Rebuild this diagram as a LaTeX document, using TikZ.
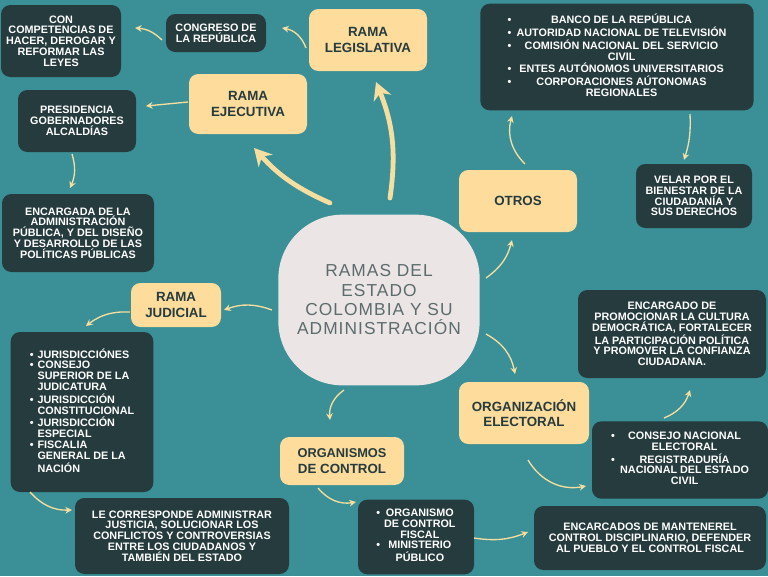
\documentclass[tikz,border=0pt]{standalone}
\usepackage{fontspec}
\setmainfont{Liberation Sans}
\usetikzlibrary{arrows.meta}
\definecolor{bg}{HTML}{3A9096}
\definecolor{dk}{HTML}{263B3D}
\definecolor{yl}{HTML}{FDDC9C}
\definecolor{ce}{HTML}{ECE5E5}
\definecolor{ar}{HTML}{F5DEA0}
\tikzset{
 dkbox/.style={fill=dk,rounded corners=7pt,text=white,font=\bfseries\fontsize{8.1}{8.1}\selectfont,align=center,inner sep=2pt},
 ylbox/.style={fill=yl,rounded corners=7pt,text=dk,font=\bfseries\fontsize{10}{11.5}\selectfont,align=center},
 con/.style={draw=ar,line width=1pt,-{Stealth[length=5pt,width=5pt]}},
 big/.style={draw=ar,line width=3.6pt,line cap=round,-{Stealth[length=13pt,width=14pt]}}
}
\newcommand{\bx}[5]{\node[#1,minimum width=#4*0.75pt,minimum height=#5*0.75pt] (#2) at (#3) }
\begin{document}
\begin{tikzpicture}[x=0.75pt,y=-0.75pt]
\fill[bg] (0,0) rectangle (768,576);
\useasboundingbox (0,0) rectangle (768,576);
\node[fill=ce,rounded corners=48pt,minimum width=151pt,minimum height=128pt,align=center,text=dk!75,font=\fontsize{13}{14.5}\selectfont\addfontfeatures{LetterSpace=6}] (c) at (379,300) {RAMAS DEL\\ESTADO\\COLOMBIA Y SU\\ADMINISTRACIÓN};
\bx{ylbox}{leg}{368,40}{118}{62}{RAMA\\LEGISLATIVA};
\bx{dkbox}{cong}{216,33}{100}{38}{CONGRESO DE\\LA REPÚBLICA};
\bx{dkbox}{comp}{61,41}{120}{72}{CON\\COMPETENCIAS DE\\HACER, DEROGAR Y\\REFORMAR LAS\\LEYES};
\bx{ylbox}{eje}{248,104}{118}{60}{RAMA\\EJECUTIVA};
\bx{dkbox}{pres}{77,121}{118}{62}{PRESIDENCIA\\GOBERNADORES\\ALCALDÍAS};
\bx{dkbox}{encg}{78,233}{152}{78}{ENCARGADA DE LA\\ADMINISTRACIÓN\\PÚBLICA, Y DEL DISEÑO\\Y DESARROLLO DE LAS\\POLÍTICAS PÚBLICAS};
\bx{ylbox}{otros}{518,201}{118}{62}{OTROS};
\node[dkbox,minimum width=205pt,minimum height=80pt] (banco) at (617,57) {\begin{tabular}{@{}l@{\hskip 4pt}c@{}}
•&BANCO DE LA REPÚBLICA\\ •&AUTORIDAD NACIONAL DE TELEVISIÓN\\ •&COMISIÓN NACIONAL DEL SERVICIO\\ &CIVIL\\ •&ENTES AUTÓNOMOS UNIVERSITARIOS\\ •&CORPORACIONES AÚTONOMAS\\ &REGIONALES\end{tabular}};
\bx{dkbox}{velar}{694,196}{116}{64}{VELAR POR EL\\BIENESTAR DE LA\\CIUDADANÍA Y\\SUS DERECHOS};
\bx{ylbox}{jud}{176,305}{90}{44}{RAMA\\JUDICIAL};
\node[dkbox,minimum width=107pt,minimum height=120pt,align=left] (jur) at (82,412) {\begin{tabular}{@{}l@{\hskip 3pt}l@{}}
•&JURISDICCIÓNES\\ •&CONSEJO\\ &SUPERIOR DE LA\\ &JUDICATURA\\ •&JURISDICCIÓN\\ &CONSTITUCIONAL\\ •&JURISDICCIÓN\\ &ESPECIAL\\ •&FISCALIA\\ &GENERAL DE LA\\ &NACIÓN\end{tabular}};
\bx{dkbox}{lec}{182,536}{214}{76}{LE CORRESPONDE ADMINISTRAR\\JUSTICIA, SOLUCIONAR LOS\\CONFLICTOS Y CONTROVERSIAS\\ENTRE LOS CIUDADANOS Y\\TAMBIÉN DEL ESTADO};
\bx{ylbox}{orgc}{342,461}{124}{48}{\fontsize{9.6}{11}\selectfont ORGANISMOS\\DE CONTROL};
\node[dkbox,minimum width=87pt,minimum height=56pt] (orgl) at (416,537) {\begin{tabular}{@{}l@{\hskip 3pt}c@{}}
•&ORGANISMO\\ &DE CONTROL\\ &FISCAL\\ •&MINISTERIO\\ &PÚBLICO\end{tabular}};
\bx{dkbox}{encc}{650,538}{232}{64}{ENCARCADOS DE MANTENEREL\\CONTROL DISCIPLINARIO, DEFENDER\\AL PUEBLO Y EL CONTROL FISCAL};
\bx{ylbox}{orge}{524,413}{130}{62}{ORGANIZACIÓN\\ELECTORAL};
\bx{dkbox}{prom}{672,334}{188}{88}{ENCARGADO DE\\PROMOCIONAR LA CULTURA\\DEMOCRÁTICA, FORTALECER\\LA PARTICIPACIÓN POLÍTICA\\Y PROMOVER LA CONFIANZA\\CIUDADANA.};
\node[dkbox,minimum width=132pt,minimum height=58pt] (cne) at (680,460) {\begin{tabular}{@{}l@{\hskip 4pt}c@{}}
•&CONSEJO NACIONAL\\ &ELECTORAL\\ •&REGISTRADURÍA\\ &NACIONAL DEL ESTADO\\ &CIVIL\end{tabular}};
% big arrows
\draw[big] (390,198) to[bend right=15] (376,82);
\draw[big] (330,203) to[bend left=12] (254,148);
% thin arrows
\draw[con] (306,48) to[bend right=30] (282,28);
\draw[con] (162,40) to[bend right=20] (135,28);
\draw[con] (188,102) -- (146,106);
\draw[con] (72,154) to[bend left=20] (70,188);
\draw[con] (486,278) to[bend right=20] (512,240);
\draw[con] (525,164) to[bend left=30] (512,116);
\draw[con] (690,114) to[bend left=10] (684,160);
\draw[con] (272,310) to[bend right=20] (224,310);
\draw[con] (130,312) to[bend right=20] (86,326);
\draw[con] (30,492) to[bend right=25] (72,510);
\draw[con] (344,390) to[bend right=30] (330,420);
\draw[con] (318,488) to[bend right=30] (356,502);
\draw[con] (474,538) to[bend right=15] (528,532);
\draw[con] (486,334) to[bend left=25] (515,374);
\draw[con] (664,418) to[bend right=25] (690,390);
\draw[con] (528,460) to[bend right=35] (586,486);
\end{tikzpicture}
\end{document}
